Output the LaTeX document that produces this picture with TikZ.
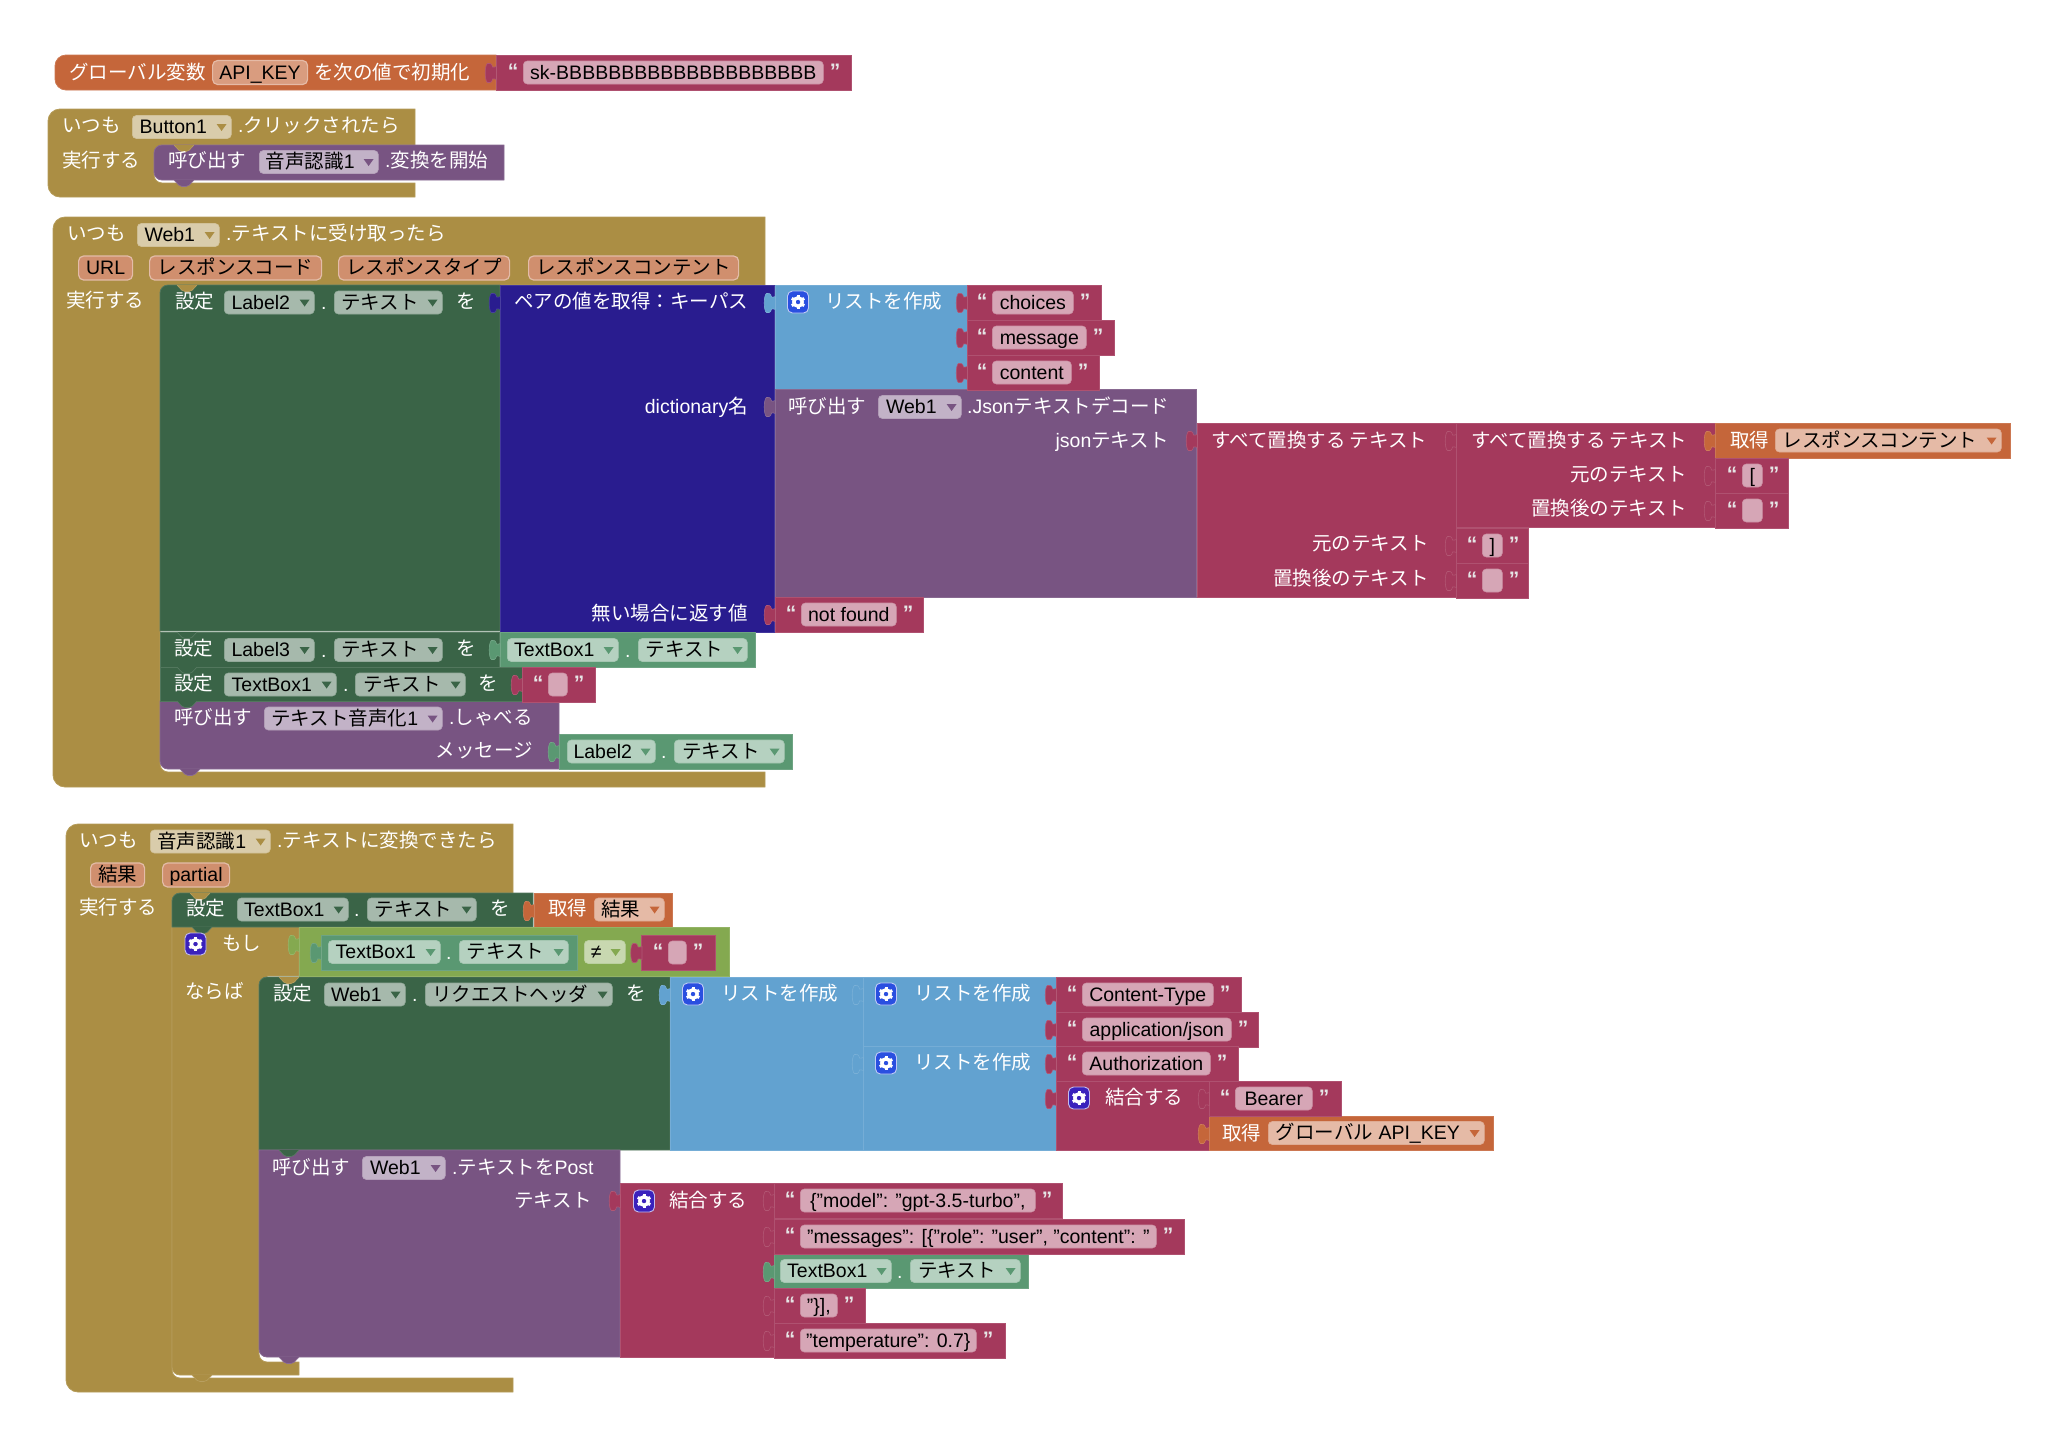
\documentclass[tikz,border=0pt]{standalone}
\usepackage{fontspec}
\setmainfont{Liberation Sans}
\newfontfamily\jp{Noto Sans CJK JP}
\newcommand{\J}[1]{{\jp #1}}
\definecolor{gold}{HTML}{AB8E44}
\definecolor{orng}{HTML}{C5663A}
\definecolor{rose}{HTML}{A4395C}
\definecolor{dkgr}{HTML}{3A6447}
\definecolor{deep}{HTML}{291C8F}
\definecolor{sky}{HTML}{62A2D0}
\definecolor{plum}{HTML}{785482}
\definecolor{ltgr}{HTML}{5A9872}
\definecolor{lgc}{HTML}{84A950}
\definecolor{gearb}{HTML}{2A4FE0}
\definecolor{gearv}{HTML}{3A22BC}
\definecolor{prm}{HTML}{D08F6E}
\tikzstyle{lbl}=[anchor=west, inner sep=0, text=white, text height=18.5, text depth=3]
\tikzstyle{lblr}=[lbl, anchor=east]
\tikzstyle{qt}=[anchor=center, inner sep=0, text=white!90!black, text height=16, text depth=3, font=\fontsize{21}{22}\selectfont\bfseries]
\tikzstyle{dd}=[execute at end node={\hspace{17pt}}]
\tikzstyle{pfld}=[anchor=west, rounded corners=5, inner xsep=0, inner ysep=2, minimum height=24, text=black,
    text height=16, text depth=3, fill=prm, draw=prm!60!white, line width=1.2]
\tikzset{
  blk/.style={fill=#1, draw=#1!88!white, line width=.8},
  fld/.style={anchor=west, rounded corners=4, inner xsep=0, inner ysep=1, minimum height=23, text=black,
    text height=16, text depth=3, fill=#1!45!white, draw=#1!55!white, line width=.6},
  tab/.pic={\draw[fill=#1, draw=#1!85!white, line width=.6]
    (.5,11.5) .. controls (-2,11.5) and (-2,13) .. (-3.5,12) .. controls (-4,8) and (-7,8) .. (-8.5,8.5)
    .. controls (-11.5,10) and (-11.5,26) .. (-8.5,27.5) .. controls (-7,28) and (-4,28) .. (-3.5,24)
    .. controls (-2,23) and (-2,24.5) .. (.5,24.5) -- cycle;},
  nib/.pic={\draw[fill=#1, draw=#1!85!white, line width=.6, rounded corners=2] (0,0) -- (6,6.5) -- (14,6.5) -- (20,0);},
  gear/.pic={\draw[fill=#1, draw=white!70!#1, line width=.9, rounded corners=5] (-10.5,-11) rectangle (10.5,11);
    \foreach \a in {0,60,...,300} \draw[white, line width=3] (\a+30:5) -- (\a+30:7.2);
    \draw[white, line width=3.4] (0,0) circle (4.2);}
}

\begin{document}
\begin{tikzpicture}[x=1pt, y=-1pt,
    every node/.style={font=\fontsize{19.5}{22}\selectfont}]

  \useasboundingbox (0,0) rectangle (2048,1441);

  % event blocks
  \draw[blk=gold] (200,109) [sharp corners] -- (415,109) -- (415,145) -- (162,145) -- (162,153) -- (154,153)
    [rounded corners=8] -- (154,183) [sharp corners] -- (415,183) -- (415,197) [rounded corners=12] -- (48,197) -- (48,109) -- cycle;
  \draw[blk=gold] (200,217) [sharp corners] -- (765,217) -- (765,285) -- (168,285) -- (168,293) -- (160,293)
    [rounded corners=8] -- (160,772) [sharp corners] -- (765,772) -- (765,787) [rounded corners=12] -- (53,787) -- (53,217) -- cycle;
  \draw[blk=gold] (200,824) [sharp corners] -- (513,824) -- (513,893) -- (180,893) -- (180,901) -- (172,901)
    [rounded corners=8] -- (172,1378) [sharp corners] -- (513,1378) -- (513,1392) [rounded corners=12] -- (66,1392) -- (66,824) -- cycle;
  % if block
  \draw[blk=gold] (172,927) -- (299,927) -- (299,976) -- (267,976) -- (267,984) -- (259,984)
    [rounded corners=8] -- (259,1362) [sharp corners] -- (299,1362) -- (299,1375) [rounded corners=8] -- (172,1375) [sharp corners] -- cycle;

  % statements with a rounded corner
  \draw[blk=orng] (496,90) -- (200,90) [rounded corners=11] -- (55,90) -- (55,55) [sharp corners] -- (496,55) -- cycle;
  \draw[blk=plum] (504,145) -- (162,145) [rounded corners=8] -- (154,145) -- (154,180) [sharp corners] -- (504,180) -- cycle;
  \draw[blk=dkgr] (500,631) -- (160,631) [rounded corners=8] -- (160,285) [sharp corners] -- (500,285) -- cycle;
  \draw[blk=plum] (559,701) -- (160,701) [rounded corners=8] -- (160,769) [sharp corners] -- (559,769) -- cycle;
  \draw[blk=dkgr] (533,927) -- (172,927) [rounded corners=8] -- (172,893) [sharp corners] -- (533,893) -- cycle;
  \draw[blk=dkgr] (670,1150) -- (259,1150) [rounded corners=8] -- (259,977) [sharp corners] -- (670,977) -- cycle;
  \draw[blk=plum] (620,1150) -- (259,1150) [rounded corners=8] -- (259,1357) [sharp corners] -- (620,1357) -- cycle;

  % plain bodies
  \foreach \c/\xa/\ya/\xb/\yb in {deep/500/285/774/632, sky/775/285/967/389,
      plum/775/389/1196/597, rose/1197/423/1456/597, rose/1456/423/1715/527, orng/1715/423/2010/458,
      dkgr/160/632/499/667, ltgr/500/632/755/667, dkgr/160/667/522/701, ltgr/559/734/792/769,
      orng/534/893/672/927, lgc/299/927/729/976, ltgr/321/935/577/970,
      sky/670/977/863/1150, sky/863/977/1056/1046, sky/863/1046/1056/1150,
      rose/1056/1081/1209/1150, orng/1209/1116/1493/1150,
      rose/620/1183/774/1357, ltgr/774/1254/1028/1288}
    \draw[blk=\c] (\xa,\ya) rectangle (\xb,\yb);

  % strings
  \foreach \n/\xa/\xb/\ya/\fa/\fb/\t in {key/496/851/55/523/823/sk-BBBBBBBBBBBBBBBBBBBB,
      choices/967/1101/285/992/1073/choices, msg/967/1114/320/992/1086/message, cont/967/1099/355/992/1071/content,
      lb/1715/1788/458/1742/1762/[, e1/1715/1788/493/1742/1762/{}, rb/1456/1528/528/1482/1502/],
      e2/1456/1528/563/1482/1502/{}, nf/775/923/597/801/896/not found, e3/522/595/667/548/567/{},
      e4/641.5/715/935/668/686/{}, ct/1056/1241/977/1082/1213/Content-Type,
      aj/1056/1258/1012/1082/1231/{application/json}, au/1056/1238/1046/1082/1210/Authorization,
      be/1209/1341/1081/1235/1312/Bearer, mo/774/1062/1183/800/1035/{\{"model": "gpt-3.5-turbo",},
      ms/774/1184/1219/800/1156/{"messages": [\{"role": "user", "content": "},
      en/774/865/1288/800/837/{"\}],}, te/774/1005/1323/800/976/{"temperature": 0.7\}}}
  {
    \draw[blk=rose] (\xa,\ya) rectangle (\xb,\ya+35);
    \pgfmathsetmacro{\w}{\fb-\fa}
    \node[fld=rose, minimum width=\w] (\n) at (\fa,\ya+17.5) {\t};
    \node[qt] (\n o) at (\fa-10,\ya+17) {“};
    \node[qt] (\n c) at (\fb+12,\ya+17) {”};
  }

  % tabs
  \foreach \c/\x/\y in {rose/496/55, deep/500/285, sky/775/285, rose/967/285, rose/967/320, rose/967/355,
      plum/775/389, rose/1197/423, rose/1456/423, orng/1715/423, rose/1715/458, rose/1715/493,
      rose/1456/528, rose/1456/563, rose/775/597, ltgr/500/632, rose/522/667, ltgr/559/734,
      orng/534/893, lgc/299/927, ltgr/321/935, rose/641.5/935, sky/670/977, sky/863/977, sky/863/1046,
      rose/1056/977, rose/1056/1012, rose/1056/1046, rose/1056/1081, rose/1209/1081, orng/1209/1116,
      rose/620/1183, rose/774/1183, rose/774/1219, ltgr/774/1254, rose/774/1288, rose/774/1323}
    \pic at (\x,\y) {tab=\c};

  % nibs
  \foreach \c/\x/\y in {gold/174/145, plum/174/180, gold/177/285, dkgr/177/632, dkgr/177/667, dkgr/177/701,
      plum/180/769, gold/190/893, dkgr/192/927, gold/279/977, dkgr/279/1150, plum/279/1357, gold/192/1375}
    \pic at (\x,\y) {nib=\c};

  % icons
  \foreach \c/\x/\y in {gearb/798/302, gearb/693/994, gearb/886/994, gearb/886/1063, gearv/1079/1098,
      gearv/644/1201, gearv/195.5/944}
    \pic at (\x,\y) {gear=\c};

  % global
  \node[lbl] (gv) at (69,72) {\J{グローバル変数}};
  \node[pfld, fill=orng!65!white, draw=orng!45!white, minimum width=95] (apikey) at (212,72.5) {API\_KEY};
  \node[lbl] (gi) at (314,72) {\J{を次の値で初期化}};

  % Button1
  \node[lbl] (b1) at (62,125) {\J{いつも}};
  \node[fld=gold, dd, minimum width=99] (b2) at (132,127) {Button1};
  \node[lbl] (b3) at (238,125) {.\J{クリックされたら}};
  \node[lbl] (b4) at (62,160) {\J{実行する}};
  \node[lbl] (b5) at (168,160) {\J{呼び出す}};
  \node[fld=plum, dd, minimum width=119] (b6) at (259,162) {\J{音声認識}1};
  \node[lbl] (b7) at (385,160) {.\J{変換を開始}};

  % Web1 event
  \node[lbl] (w1) at (67,233) {\J{いつも}};
  \node[fld=gold, dd, minimum width=82] (w2) at (137,235) {Web1};
  \node[lbl] (w3) at (226,233) {.\J{テキストに受け取ったら}};
  \node[pfld, minimum width=54] (p1) at (78,268) {URL};
  \node[pfld, minimum width=172] (p2) at (149,268) {\J{レスポンスコード}};
  \node[pfld, minimum width=171] (p3) at (338,268) {\J{レスポンスタイプ}};
  \node[pfld, minimum width=210] (p4) at (528,268) {\J{レスポンスコンテント}};
  \node[lbl] (w4) at (66,300) {\J{実行する}};

  \node[lbl] (s1) at (175,301) {\J{設定}};
  \node[fld=dkgr, dd, minimum width=90] (s2) at (224,302.5) {Label2};
  \node[lbl] (s3) at (321,302) {.};
  \node[fld=dkgr, dd, minimum width=108] (s4) at (334,302.5) {\J{テキスト}};
  \node[lbl] (s5) at (456,301) {\J{を}};
  \node[lbl] (d1) at (514,301) {\J{ペアの値を取得：キーパス}};
  \node[lblr] (d2) at (748,406) {dictionary\J{名}};
  \node[lblr] (d3) at (748,613) {\J{無い場合に返す値}};
  \node[lbl] (l1) at (825,301) {\J{リストを作成}};
  \node[lbl] (c1) at (788,406) {\J{呼び出す}};
  \node[fld=plum, dd, minimum width=83] (c2) at (878,407) {Web1};
  \node[lbl] (c3) at (967,406) {.Json\J{テキストデコード}};
  \node[lblr] (c4) at (1169,440) {json\J{テキスト}};
  \node[lbl] (r1) at (1211,440) {\J{すべて置換する テキスト}};
  \node[lblr] (r2) at (1429,543) {\J{元のテキスト}};
  \node[lblr] (r3) at (1429,578) {\J{置換後のテキスト}};
  \node[lbl] (r4) at (1471,440) {\J{すべて置換する テキスト}};
  \node[lblr] (r5) at (1687,474) {\J{元のテキスト}};
  \node[lblr] (r6) at (1687,508) {\J{置換後のテキスト}};
  \node[lbl] (g1) at (1730,440) {\J{取得}};
  \node[fld=orng, dd, minimum width=226] (g2) at (1775,440.5) {\J{レスポンスコンテント}};

  \node[lbl] (s6) at (174,648) {\J{設定}};
  \node[fld=dkgr, dd, minimum width=90] (s7) at (224,650) {Label3};
  \node[lbl] (s8) at (321,650) {.};
  \node[fld=dkgr, dd, minimum width=108] (s9) at (334,650) {\J{テキスト}};
  \node[lbl] (s10) at (456,648) {\J{を}};
  \node[fld=ltgr, dd, minimum width=111] (t1) at (507,650) {TextBox1};
  \node[lbl] (t2) at (625,650) {.};
  \node[fld=ltgr, dd, minimum width=109] (t3) at (638,650) {\J{テキスト}};

  \node[lbl] (s11) at (174,683) {\J{設定}};
  \node[fld=dkgr, dd, minimum width=112] (s12) at (224,684.5) {TextBox1};
  \node[lbl] (s13) at (343,684) {.};
  \node[fld=dkgr, dd, minimum width=110] (s14) at (355,684.5) {\J{テキスト}};
  \node[lbl] (s15) at (478,683) {\J{を}};

  \node[lbl] (m1) at (174,717) {\J{呼び出す}};
  \node[fld=plum, dd, minimum width=178] (m2) at (264,718.5) {\J{テキスト音声化}1};
  \node[lbl] (m3) at (449,717) {.\J{しゃべる}};
  \node[lblr] (m4) at (533,750) {\J{メッセージ}};
  \node[fld=ltgr, dd, minimum width=88] (m5) at (567,751.5) {Label2};
  \node[lbl] (m6) at (661,751) {.};
  \node[fld=ltgr, dd, minimum width=110] (m7) at (674,751.5) {\J{テキスト}};

  % speech event
  \node[lbl] (v1) at (79,840) {\J{いつも}};
  \node[fld=gold, dd, minimum width=120] (v2) at (150,841.5) {\J{音声認識}1};
  \node[lbl] (v3) at (277,840) {.\J{テキストに変換できたら}};
  \node[pfld, minimum width=54] (v4) at (90,875) {\J{結果}};
  \node[pfld, minimum width=67] (v5) at (162,875) {partial};
  \node[lbl] (v6) at (79,907) {\J{実行する}};
  \node[lbl] (v7) at (186,908) {\J{設定}};
  \node[fld=dkgr, dd, minimum width=111] (v8) at (237,909.5) {TextBox1};
  \node[lbl] (v9) at (354,909) {.};
  \node[fld=dkgr, dd, minimum width=109] (v10) at (367,909.5) {\J{テキスト}};
  \node[lbl] (v11) at (490,908) {\J{を}};
  \node[lbl] (v12) at (548,908) {\J{取得}};
  \node[fld=orng, dd, minimum width=70] (v13) at (594,909.5) {\J{結果}};

  % if
  \node[lbl] (f1) at (222,943) {\J{もし}};
  \node[fld=ltgr, dd, minimum width=112] (f2) at (328,952) {TextBox1};
  \node[lbl] (f3) at (446,952) {.};
  \node[fld=ltgr, dd, minimum width=109] (f4) at (459,952) {\J{テキスト}};
  \node[fld=lgc, dd, minimum width=41] (f5) at (584,952) {≠};
  \node[lbl] (f6) at (185,991) {\J{ならば}};

  % request headers
  \node[lbl] (h1) at (273,993) {\J{設定}};
  \node[fld=dkgr, dd, minimum width=81] (h2) at (324,994.5) {Web1};
  \node[lbl] (h3) at (412,994) {.};
  \node[fld=dkgr, dd, minimum width=187] (h4) at (425,994.5) {\J{リクエストヘッダ}};
  \node[lbl] (h5) at (626,993) {\J{を}};
  \node[lbl] (h6) at (721,993) {\J{リストを作成}};
  \node[lbl] (h7) at (914,993) {\J{リストを作成}};
  \node[lbl] (h8) at (914,1062) {\J{リストを作成}};
  \node[lbl] (h9) at (1105,1097) {\J{結合する}};
  \node[lbl] (h10) at (1222,1133) {\J{取得}};
  \node[fld=orng, dd, minimum width=216] (h11) at (1268,1133) {\J{グローバル} API\_KEY};

  % post
  \node[lbl] (o1) at (272,1167) {\J{呼び出す}};
  \node[fld=plum, dd, minimum width=83] (o2) at (362,1168) {Web1};
  \node[lbl] (o3) at (452,1167) {.\J{テキストを}Post};
  \node[lblr] (o4) at (592,1200) {\J{テキスト}};
  \node[lbl] (o5) at (669,1200) {\J{結合する}};
  \node[fld=ltgr, dd, minimum width=111] (o6) at (780,1271) {TextBox1};
  \node[lbl] (o7) at (897,1271) {.};
  \node[fld=ltgr, dd, minimum width=110] (o8) at (910,1271) {\J{テキスト}};

  % dropdown arrows
  \foreach \n/\c in {b2/gold, b6/plum, w2/gold, s2/dkgr, s4/dkgr, c2/plum, g2/orng, s7/dkgr, s9/dkgr,
      t1/ltgr, t3/ltgr, s12/dkgr, s14/dkgr, m2/plum, m5/ltgr, m7/ltgr, v2/gold, v8/dkgr, v10/dkgr, v13/orng,
      f2/ltgr, f4/ltgr, f5/lgc, h2/dkgr, h4/dkgr, h11/orng, o2/plum, o6/ltgr, o8/ltgr}
    \fill[\c] ([xshift=-15pt,yshift=3pt]\n.east) -- ([xshift=-5pt,yshift=3pt]\n.east) -- ([xshift=-10pt,yshift=-4pt]\n.east) -- cycle;

\end{tikzpicture}
\end{document}
